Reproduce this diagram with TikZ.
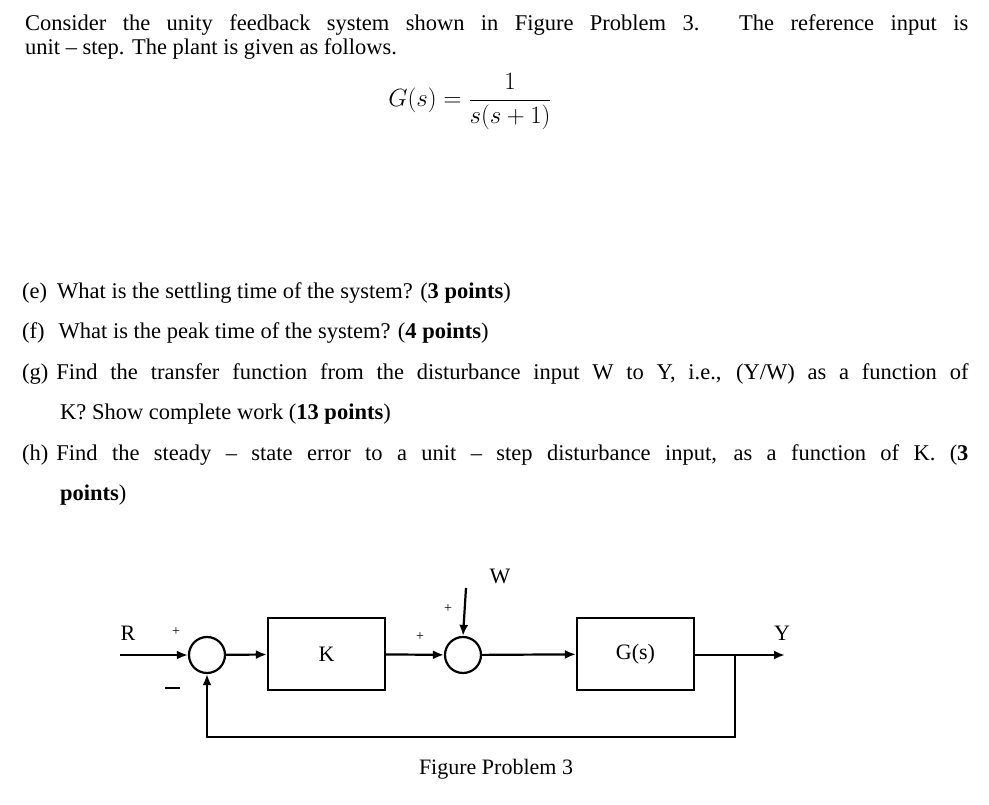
\documentclass[tikz,border=0pt]{standalone}
\usepackage{fontspec}
\setmainfont{Liberation Serif}
\usetikzlibrary{arrows.meta}
\begin{document}
\begin{tikzpicture}[x=1pt,y=-1pt,
  txt/.style={anchor=west,inner sep=0,font=\fontsize{22.5}{26}\selectfont},
  lbl/.style={inner sep=0,font=\fontsize{22}{26}\selectfont},
  pl/.style={inner sep=0,font=\fontsize{14}{16}\selectfont},
  blk/.style={draw,line width=2.2pt,minimum width=117pt,minimum height=72pt,inner sep=0,font=\fontsize{22}{26}\selectfont},
  sm/.style={draw,circle,line width=2.2pt,minimum size=36pt,inner sep=0},
  ar/.style={line width=2.2pt,-{Latex[length=11pt,width=9pt]}}]
\useasboundingbox (0,0) rectangle (989,805);
\node[txt] (l1) at (25,25) {\makebox[943pt][s]{Consider the unity feedback system shown in Figure Problem 3. The reference input is}};
\node[txt] (l2) at (25,49) {unit -- step. The plant is given as follows.};
\node[inner sep=0] (eq) at (470,102) {\fontsize{25}{30}\selectfont$\displaystyle G(s)=\frac{1}{s(s+1)}$};
\node[txt] (e) at (22,293) {(e)\hspace{10pt}What is the settling time of the system? (\textbf{3 points})};
\node[txt] (f) at (22,333) {(f)\hspace{14pt}What is the peak time of the system? (\textbf{4 points})};
\node[txt] (g) at (22,374) {(g)\hspace{8pt}\makebox[912pt][s]{Find the transfer function from the disturbance input W to Y, i.e., (Y/W) as a function of}};
\node[txt] (g2) at (60,414) {K? Show complete work (\textbf{13 points})};
\node[txt] (h) at (22,455) {(h)\hspace{8pt}\makebox[912pt][s]{Find the steady -- state error to a unit -- step disturbance input, as a function of K. (\textbf{3}}};
\node[txt] (h2) at (60,495) {\textbf{points})};
% diagram
\node[sm] (s1) at (207,655) {};
\node[blk] (K) at (326.5,654) {K};
\node[sm] (s2) at (463,655) {};
\node[blk] (G) at (635.5,654) {G(s)};
\coordinate (rin) at (120,655);
\coordinate (win) at (466,588);
\coordinate (br) at (735,655);
\coordinate (yout) at (785,655);
\coordinate (fb1) at (735,737);
\coordinate (fb2) at (207,737);
\draw[ar] (rin) -- (s1);
\draw[ar] (s1) -- (K);
\draw[ar] (K) -- (s2);
\draw[ar] (win) -- (s2.north);
\draw[ar] (s2) -- (G);
\draw[ar] (G.east |- br) -- (yout);
\draw[ar] (br) -- (fb1) -- (fb2) -- (s1.south);
\node[lbl] (R) at (128,633) {R};
\node[lbl] (W) at (500,576) {W};
\node[lbl] (Y) at (782,633) {Y};
\node[pl] (p1) at (176,632) {+};
\node[pl] (p2) at (420,637) {+};
\node[pl] (p3) at (448,609) {+};
\draw[line width=1.4pt] (165,688) -- (180,688);
\node[lbl] (cap) at (496,769) {Figure Problem 3};
\end{tikzpicture}
\end{document}
